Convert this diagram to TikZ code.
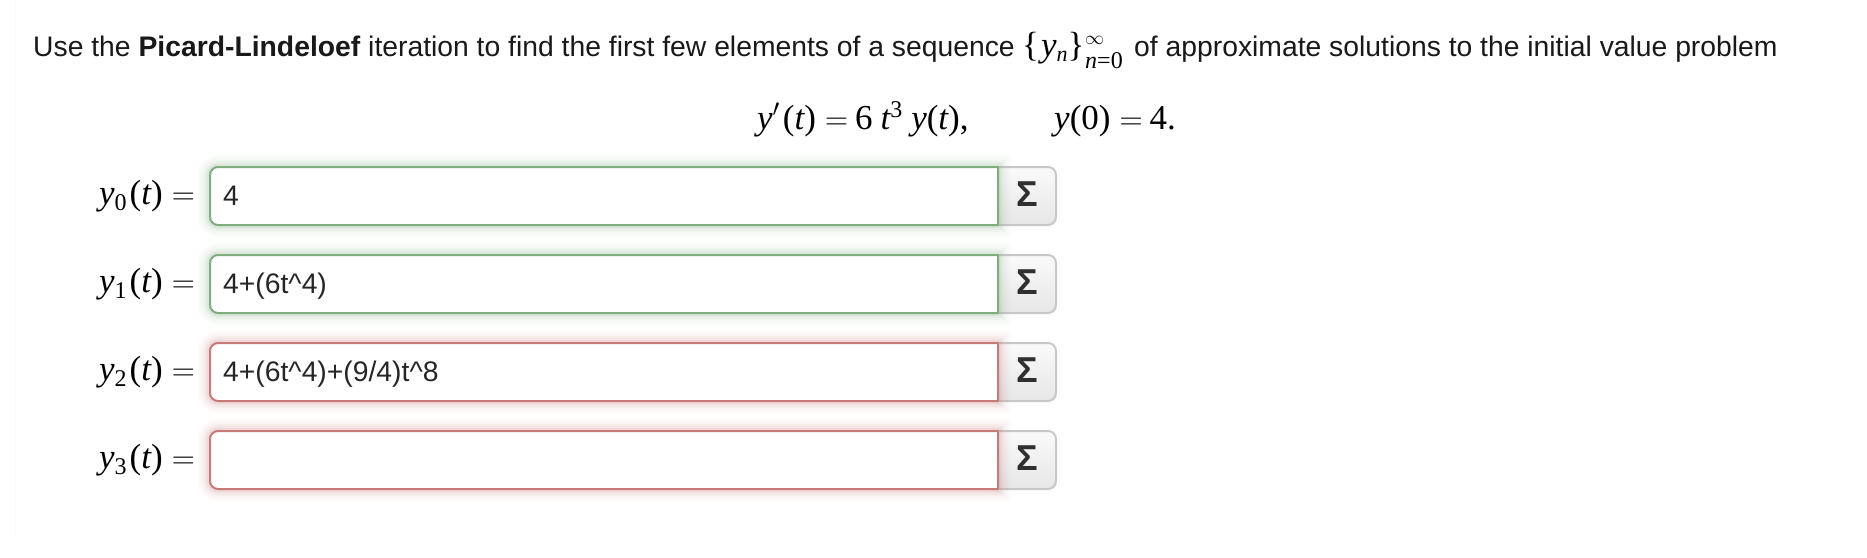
\documentclass[tikz,border=0pt]{standalone}
\usepackage{fix-cm}
\usepackage{fontspec}
\setmainfont{Liberation Sans}
\newfontfamily\mathserif{Liberation Serif}
\newcommand{\mvar}[1]{{\mathserif\itshape #1}}
\newcommand{\msub}[1]{\raisebox{-6pt}{\fontsize{24}{24}\selectfont\mathserif #1}}
\newcommand{\meq}{\hspace{9pt}{\fontsize{32}{32}\selectfont$=$}\hspace{7pt}}
\definecolor{pagecolor0001}{RGB}{250,250,250}
\definecolor{okcolor0001}{RGB}{127,173,125}
\definecolor{badcolor0001}{RGB}{199,122,120}
\definecolor{btncolor0001}{RGB}{200,200,200}
\definecolor{btncolor0002}{RGB}{250,250,250}
\definecolor{btncolor0003}{RGB}{230,230,230}
\definecolor{sigmacolor0001}{RGB}{48,48,48}

\begin{document}
\begin{tikzpicture}[yscale=-1
            ,bodytext/.style={anchor=base west,inner sep=0pt,font=\fontsize{28.3}{30}\selectfont,color=black!90}
            ,entrytext/.style={anchor=base west,inner sep=0pt,font=\fontsize{28.3}{30}\selectfont,color=black!85}
            ,eqtext/.style={anchor=base west,inner sep=0pt,font=\fontsize{35}{38}\selectfont\mathserif,color=black}
            ,sumtext/.style={inner sep=0pt,anchor=west,font=\fontsize{24}{26}\selectfont\mathserif,color=black}
            ,sigmatext/.style={inner sep=0pt,font=\fontsize{36}{36}\selectfont\bfseries,color=sigmacolor0001}
            ,glowok/.style={line join=round,preaction={draw=okcolor0001,draw opacity=0.03,line width=24pt},preaction={draw=okcolor0001,draw opacity=0.04,line width=19pt},preaction={draw=okcolor0001,draw opacity=0.05,line width=14pt},preaction={draw=okcolor0001,draw opacity=0.07,line width=10pt},preaction={draw=okcolor0001,draw opacity=0.10,line width=6pt}}
            ,glowbad/.style={line join=round,preaction={draw=badcolor0001,draw opacity=0.03,line width=24pt},preaction={draw=badcolor0001,draw opacity=0.04,line width=19pt},preaction={draw=badcolor0001,draw opacity=0.05,line width=14pt},preaction={draw=badcolor0001,draw opacity=0.07,line width=10pt},preaction={draw=badcolor0001,draw opacity=0.10,line width=6pt}}
            ,okbox/.style={glowok,draw=okcolor0001,fill=white,line width=2pt}
            ,badbox/.style={glowbad,draw=badcolor0001,fill=white,line width=2pt}
            ,btnbox/.style={draw=btncolor0001,line width=2pt,top color=btncolor0002,bottom color=btncolor0003}
        ]
        \useasboundingbox (0pt,0pt) rectangle (1867pt,557pt);
        \fill[white] (0pt,0pt) rectangle (1867pt,557pt);
        \draw[pagecolor0001,line width=1pt] (15pt,0pt) -- (15pt,535pt);
        % question line
        \node (intro) at (33pt,56pt)[bodytext]{Use the \textbf{Picard-Lindeloef} iteration to find the first few elements of a sequence};
        \node (seqset) at (1022pt,56pt)[eqtext]{\{\hspace{2pt}\mvar{y}\raisebox{-5pt}{\fontsize{22}{24}\selectfont\itshape n}\}};
        \node (seqtop) at (1085pt,40pt)[sumtext]{\fontsize{19}{20}\selectfont$\infty$};
        \node (seqbot) at (1085pt,60.5pt)[sumtext]{\mvar{n}=0};
        \node (outro) at (1134pt,56pt)[bodytext]{of approximate solutions to the initial value problem};
        % equation
        \node (ode) at (757pt,129pt)[eqtext]{\mvar{y}$'$\hspace{3pt}(\mvar{t})\meq 6\hspace{8pt}\mvar{t}\raisebox{12pt}{\fontsize{24}{24}\selectfont 3}\hspace{9pt}\mvar{y}(\mvar{t}),};
        \node (ivp) at (1054pt,129pt)[eqtext]{\mvar{y}(0)\meq 4.};
        % row 0
        \draw[btnbox] (990pt,167pt) -- (1048pt,167pt) to[out=0,in=-90] (1056pt,175pt) -- (1056pt,217pt) to[out=90,in=0] (1048pt,225pt) -- (990pt,225pt) -- cycle;
        \draw[okbox] (998pt,167pt) [rounded corners=8pt] -- (210pt,167pt) -- (210pt,225pt) -- (300pt,225pt) [sharp corners] -- (998pt,225pt) -- cycle;
        \node (label0) at (99pt,204pt)[eqtext]{\mvar{y}\msub{0}\hspace{3pt}(\mvar{t})\meq};
        \node (entry0) at (223pt,205pt)[entrytext]{4};
        \node (sigma0) at (1027.5pt,194pt)[sigmatext]{Σ};
        % row 1
        \draw[btnbox] (990pt,255pt) -- (1048pt,255pt) to[out=0,in=-90] (1056pt,263pt) -- (1056pt,305pt) to[out=90,in=0] (1048pt,313pt) -- (990pt,313pt) -- cycle;
        \draw[okbox] (998pt,255pt) [rounded corners=8pt] -- (210pt,255pt) -- (210pt,313pt) -- (300pt,313pt) [sharp corners] -- (998pt,313pt) -- cycle;
        \node (label1) at (99pt,292pt)[eqtext]{\mvar{y}\msub{1}\hspace{3pt}(\mvar{t})\meq};
        \node (entry1) at (223pt,293pt)[entrytext]{4+(6t\^{}4)};
        \node (sigma1) at (1027.5pt,282pt)[sigmatext]{Σ};
        % row 2
        \draw[btnbox] (990pt,343pt) -- (1048pt,343pt) to[out=0,in=-90] (1056pt,351pt) -- (1056pt,393pt) to[out=90,in=0] (1048pt,401pt) -- (990pt,401pt) -- cycle;
        \draw[badbox] (998pt,343pt) [rounded corners=8pt] -- (210pt,343pt) -- (210pt,401pt) -- (300pt,401pt) [sharp corners] -- (998pt,401pt) -- cycle;
        \node (label2) at (99pt,380pt)[eqtext]{\mvar{y}\msub{2}\hspace{3pt}(\mvar{t})\meq};
        \node (entry2) at (223pt,381pt)[entrytext]{4+(6t\^{}4)+(9/4)t\^{}8};
        \node (sigma2) at (1027.5pt,370pt)[sigmatext]{Σ};
        % row 3
        \draw[btnbox] (990pt,431pt) -- (1048pt,431pt) to[out=0,in=-90] (1056pt,439pt) -- (1056pt,481pt) to[out=90,in=0] (1048pt,489pt) -- (990pt,489pt) -- cycle;
        \draw[badbox] (998pt,431pt) [rounded corners=8pt] -- (210pt,431pt) -- (210pt,489pt) -- (300pt,489pt) [sharp corners] -- (998pt,489pt) -- cycle;
        \node (label3) at (99pt,468pt)[eqtext]{\mvar{y}\msub{3}\hspace{3pt}(\mvar{t})\meq};
        \node (sigma3) at (1027.5pt,458pt)[sigmatext]{Σ};
    \end{tikzpicture}
\end{document}
